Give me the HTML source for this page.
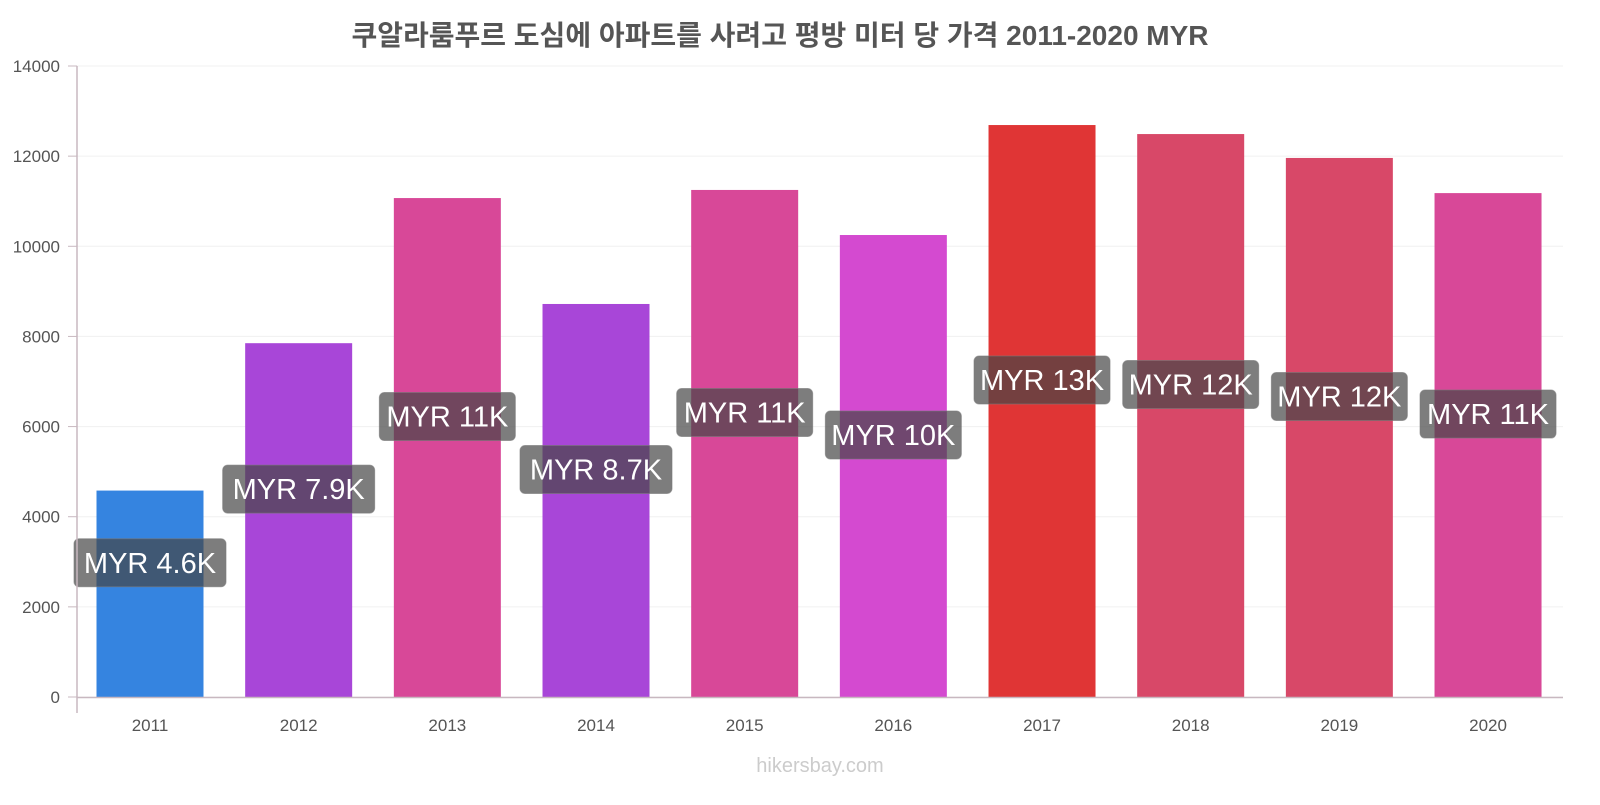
<!DOCTYPE html>
<html><head><meta charset="utf-8"><style>
body{margin:0;background:#fff;font-family:"Liberation Sans","Noto Sans CJK KR",sans-serif}
svg text{font-family:"Liberation Sans","Noto Sans CJK KR",sans-serif}
</style></head><body>
<svg id="chart" width="1600" height="800" xmlns="http://www.w3.org/2000/svg">
<text x="780" y="45" text-anchor="middle" font-size="28" font-weight="bold" fill="#555">쿠알라룸푸르 도심에 아파트를 사려고 평방 미터 당 가격 2011-2020 MYR</text>
<g id="grid"></g><g id="bars"></g><g id="labels"></g>
<line x1="77" y1="66" x2="77" y2="713" stroke="#c8b8c0" stroke-width="1.5"/>
<line x1="77" y1="697.5" x2="1563" y2="697.5" stroke="#c8b8c0" stroke-width="1.5"/>
<text x="820" y="772" text-anchor="middle" font-size="20" fill="#ccc">hikersbay.com</text>
</svg>
<script>
const years=["2011","2012","2013","2014","2015","2016","2017","2018","2019","2020"];
const values=[4580,7850,11070,8720,11250,10250,12690,12490,11960,11180];
const labels=["MYR 4.6K","MYR 7.9K","MYR 11K","MYR 8.7K","MYR 11K","MYR 10K","MYR 13K","MYR 12K","MYR 12K","MYR 11K"];
const colors=["#3584e0","#a846d8","#d84898","#a846d8","#d84898","#d44ad0","#e03535","#d84868","#d84868","#d84898"];
const yTicks=[0,2000,4000,6000,8000,10000,12000,14000];
const NS="http://www.w3.org/2000/svg";
const y=v=>697-v*631/14000;
const x=i=>150+i*148.67;
function mk(t,a,p){const e=document.createElementNS(NS,t);for(const k in a)e.setAttribute(k,a[k]);p.appendChild(e);return e;}
const grid=document.getElementById('grid'),bars=document.getElementById('bars'),lab=document.getElementById('labels');
yTicks.forEach(t=>{
 const l=mk('line',{x1:77,x2:1563,y1:y(t),y2:y(t),stroke:'#f0f0f0'},grid);
 
 
 const tk=mk('line',{x1:68,x2:77,y1:y(t),y2:y(t),stroke:'#c8b8c0'},grid);
 
 
 const tx=mk('text',{x:60,y:y(t)+6,'text-anchor':'end','font-size':17,fill:'#555'},grid);
 tx.textContent=t;
 
 
});
years.forEach((yr,i)=>{
 const b=mk('rect',{x:x(i)-53.5,y:y(values[i]),width:107,height:697-y(values[i]),fill:colors[i]},bars);
 
 
 const xl=mk('text',{x:x(i),y:731,'text-anchor':'middle','font-size':17,fill:'#555'},bars);
 xl.textContent=yr;
 
 
 const cy=(697+y(values[i]))/2-31;
 const w=labels[i].length*16+24;
 const r=mk('rect',{x:x(i)-w/2,y:cy-24,width:w,height:48,rx:5,fill:'rgba(70,70,70,0.7)',stroke:'rgba(120,120,120,0.6)'},lab);
 
 
 const t=mk('text',{x:x(i),y:cy+10,'text-anchor':'middle','font-size':29,fill:'#fff'},lab);
 t.textContent=labels[i];
 
 
});
</script>
</body></html>
